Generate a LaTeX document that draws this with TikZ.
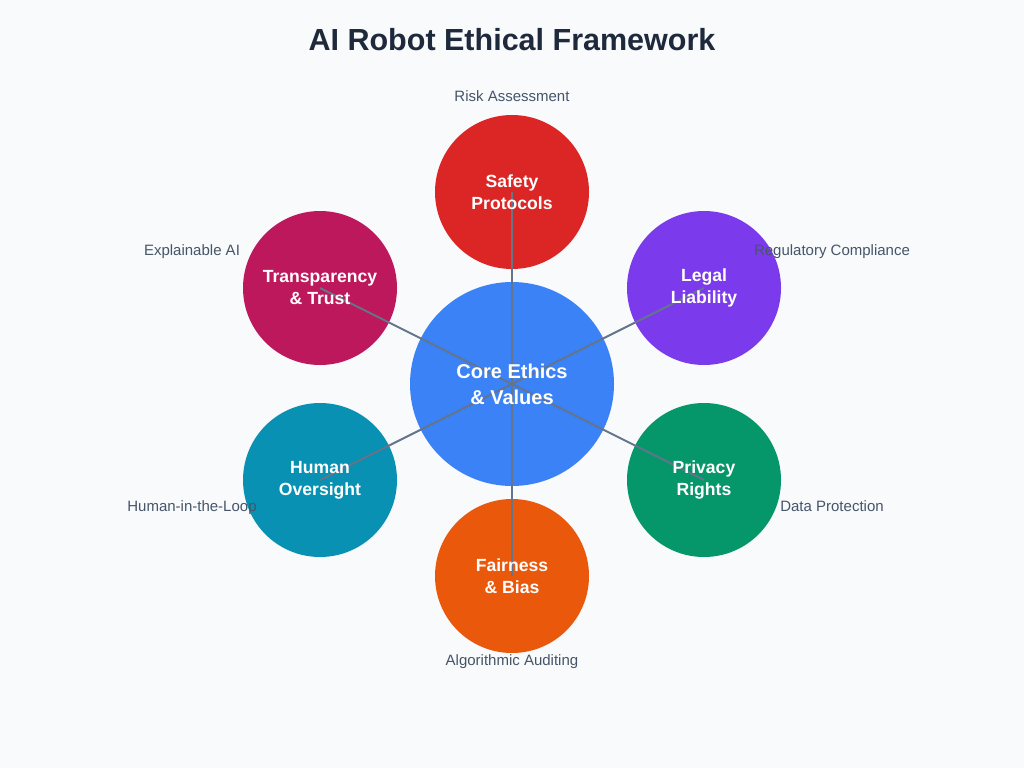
\documentclass[tikz,border=0pt]{standalone}
\usepackage{fontspec}
\setmainfont{Liberation Sans}
\definecolor{pagebg}{HTML}{F8FAFC}
\definecolor{titleink}{HTML}{1E293B}
\definecolor{asideink}{HTML}{475569}
\definecolor{linkgray}{HTML}{64748B}
\definecolor{coreblue}{HTML}{3B82F6}
\definecolor{safetyred}{HTML}{DC2626}
\definecolor{legalviolet}{HTML}{7C3AED}
\definecolor{privacygreen}{HTML}{059669}
\definecolor{fairorange}{HTML}{EA580C}
\definecolor{humancyan}{HTML}{0891B2}
\definecolor{transpink}{HTML}{BE185D}
\tikzset{
  hub/.style={
    % The shape:
    circle,inner sep=0pt,
    % The size:
    minimum size=204pt,
    % The filling:
    fill=coreblue}}
\tikzset{
  pillar/.style={
    % The shape:
    circle,inner sep=0pt,
    % The size:
    minimum size=154pt}}
\tikzset{
  caption/.style={
    text=white,align=center,
    font=\bfseries\fontsize{17.6}{22}\selectfont},
  aside/.style={
    text=asideink,anchor=base,
    font=\fontsize{15}{17}\selectfont},
  link/.style={draw=linkgray,line width=2pt}}

\begin{document}
\begin{tikzpicture}[x=1pt,y=-1pt]
	\useasboundingbox[fill=pagebg] (0,0) rectangle (1024,768);
	\node[text=titleink,font=\bfseries\fontsize{30.5}{34}\selectfont] (title) at (512,40) {AI Robot Ethical Framework};
	% The circles
	\node[hub] (core) at (512,384) {};
	\node[pillar,fill=safetyred] (safety) at (512,192) {};
	\node[pillar,fill=legalviolet] (legal) at (704,288) {};
	\node[pillar,fill=privacygreen] (privacy) at (704,480) {};
	\node[pillar,fill=fairorange] (fair) at (512,576) {};
	\node[pillar,fill=humancyan] (human) at (320,480) {};
	\node[pillar,fill=transpink] (trans) at (320,288) {};
	% Lines out of core
	\draw[link] (core.center) -- (safety.center);
	\draw[link] (core.center) -- (legal.center);
	\draw[link] (core.center) -- (privacy.center);
	\draw[link] (core.center) -- (fair.center);
	\draw[link] (core.center) -- (human.center);
	\draw[link] (core.center) -- (trans.center);
	% Texts in the circles
	\node[caption,font=\bfseries\fontsize{20}{26}\selectfont] (coretext) at (core.center) {Core Ethics\\\& Values};
	\node[caption] (safetytext) at (safety.center) {Safety\\Protocols};
	\node[caption] (legaltext) at (legal.center) {Legal\\Liability};
	\node[caption] (privacytext) at (privacy.center) {Privacy\\Rights};
	\node[caption] (fairtext) at (fair.center) {Fairness\\\& Bias};
	\node[caption] (humantext) at (human.center) {Human\\Oversight};
	\node[caption] (transtext) at (trans.center) {Transparency\\\& Trust};
	% Texts outside
	\node[aside] (risk) at (512,101) {Risk Assessment};
	\node[aside] (regul) at (832,255) {Regulatory Compliance};
	\node[aside] (dataprot) at (832,511) {Data Protection};
	\node[aside] (audit) at (512,665) {Algorithmic Auditing};
	\node[aside] (loop) at (192,511) {Human-in-the-Loop};
	\node[aside] (explain) at (192,255) {Explainable AI};
\end{tikzpicture}
\end{document}
